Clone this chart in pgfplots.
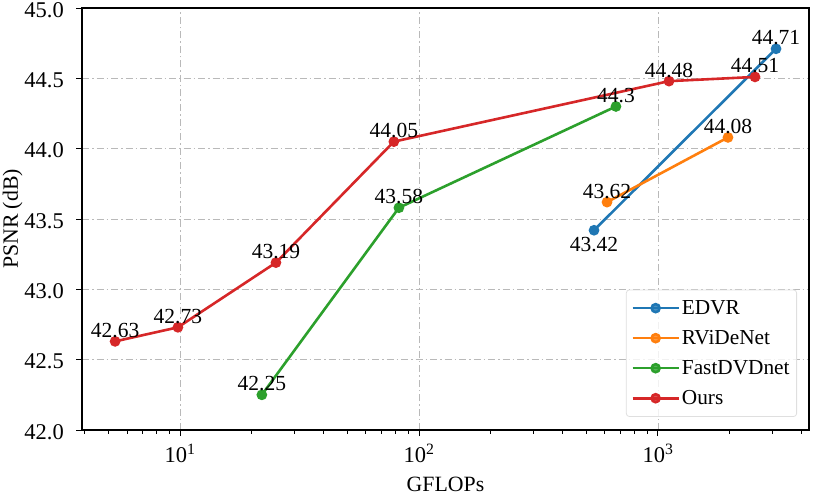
\documentclass[border=0pt]{standalone}
\usepackage{fontspec}
\setmainfont{Liberation Serif}
\usepackage{pgfplots}
\pgfplotsset{compat=1.18}
\definecolor{tabblue}{HTML}{1F77B4}
\definecolor{taborange}{HTML}{FF7F0E}
\definecolor{tabgreen}{HTML}{2CA02C}
\definecolor{tabred}{HTML}{D62728}
\begin{document}
\begin{tikzpicture}
\begin{axis}[
  scale only axis, width=727pt, height=422pt,
  xmode=log, xmin=3.89, xmax=4285, ymin=42, ymax=45,
  ytick={42,42.5,43,43.5,44,44.5,45},
  xtick={10,100,1000},
  xticklabels={10\textsuperscript{1},10\textsuperscript{2},10\textsuperscript{3}},
  minor xtick={4,5,6,7,8,9,20,30,40,50,60,70,80,90,200,300,400,500,600,700,800,900,2000,3000,4000},
  tick align=outside, major tick length=6pt, minor tick length=3.5pt,
  tick pos=left,
  grid=major,
  major grid style={gray!55, line width=0.8pt, dash pattern=on 7pt off 3pt on 1.5pt off 3pt},
  minor grid style={draw=none},
  axis line style={line width=1.1pt},
  every tick/.style={black, line width=1pt},
  tick label style={font=\fontsize{22.5}{25}\selectfont},
  yticklabel style={anchor=east, inner sep=0pt, xshift=-12pt, yshift=-2pt, /pgf/number format/fixed, /pgf/number format/fixed zerofill, /pgf/number format/precision=1, /pgf/number format/assume math mode=true},
  xticklabel style={anchor=base, inner sep=0pt, yshift=-26pt},
  xlabel={GFLOPs}, ylabel={PSNR (dB)},
  every axis x label/.style={at={(axis description cs:0.5,0)}, anchor=base, yshift=-61pt, font=\fontsize{21.8}{24}\selectfont},
  every axis y label/.style={at={(axis description cs:-0.0955,0.5)}, anchor=center, rotate=90, inner sep=0pt, font=\fontsize{21.8}{24}\selectfont},
  legend style={at={(0.9835,0.031)}, anchor=south east, draw=gray!25, line width=0.8pt, rounded corners=3pt,
    fill=white, fill opacity=0.8, text opacity=1, font=\fontsize{21.3}{23}\selectfont,
    row sep=10.5pt, inner xsep=5pt, inner ysep=8.5pt,
    /tikz/every even column/.append style={column sep=3pt}},
  legend cell align=left,
  legend image code/.code={\draw[#1, mark repeat=2, mark phase=2] plot coordinates {(0pt,0pt) (23pt,0pt) (46pt,0pt)};},
  every axis plot/.append style={line width=2.6pt, mark=*, mark size=4pt, mark options={solid}},
  nodes near coords, point meta=explicit symbolic,
  every node near coord/.append style={text=black, anchor=base, inner sep=0pt, yshift=4pt, font=\fontsize{21.5}{24}\selectfont},
]
\addplot[tabblue] coordinates {(540,43.42)[] (3119,44.71)[]};
\addlegendentry{EDVR}
\addplot[taborange] coordinates {(612,43.62)[43.62] (1963,44.08)[44.08]};
\addlegendentry{RViDeNet}
\addplot[tabgreen] coordinates {(22.0,42.25)[42.25] (82.4,43.58)[43.58] (667,44.3)[44.3]};
\addlegendentry{FastDVDnet}
\addplot[tabred] coordinates {(5.35,42.63)[42.63] (9.8,42.73)[42.73] (25.2,43.19)[43.19] (78.5,44.05)[44.05] (1112,44.48)[44.48] (2547,44.51)[44.51]};
\addlegendentry{Ours}
\addplot[draw=none, mark=none, forget plot] coordinates {(3119,44.71)[44.71]};
\addplot[draw=none, mark=none, forget plot, every node near coord/.append style={anchor=north, yshift=-10pt}] coordinates {(540,43.42)[43.42]};
\end{axis}
\pgfresetboundingbox
\path[use as bounding box] (-82pt,-66pt) rectangle (732pt,430pt);
\end{tikzpicture}
\end{document}
